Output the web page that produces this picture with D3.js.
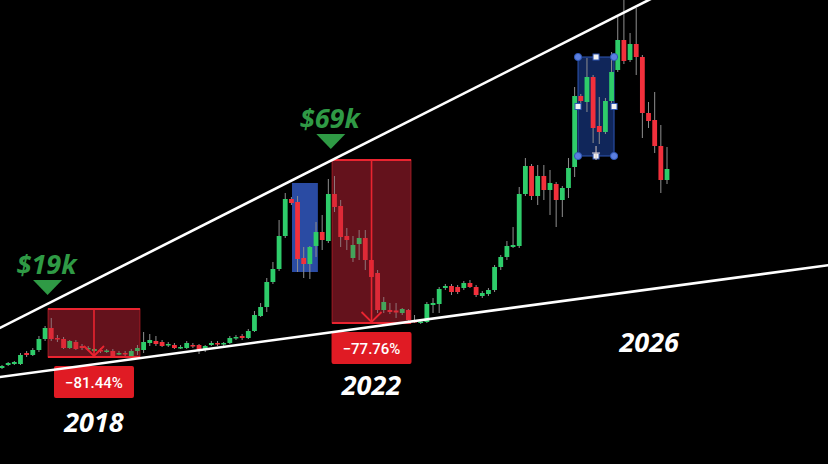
<!DOCTYPE html>
<html><head><meta charset="utf-8">
<script src="https://cdn.jsdelivr.net/npm/d3@7"></script>
<style>html,body{margin:0;padding:0;background:#000;}svg{display:block;}</style>
</head><body>
<svg id="c" width="828" height="464"></svg>
<script>
// Monthly candles (index levels)
const opens  = [96,99,100,100,111,109,114,125,136,126,125,116,122,118,115,113,114,113,113,110.5,111,108,113,114,121,123,122,119,119,116.5,116,119,119,114,119,121,120,121,125.5,128,126,133,148,157,182,195,228,265,262,206,200,218,232,223,270,258,228,206,220,226,204,191,154,154,153.5,151,154,143,142,142,159,160,176,178,177,176,181,177,168,170,174,197,207,217,218,270,298,268,288,274,280,264,276,297,368,362,387,338,332,363,394,424,404,420,407,351,344,318,284];
const highs  = [99,102,103,111,113,116,128,138,146,129,127,124,124,120,118,116,116,115,115,113,113,115,119,132,130,128,124,122,121,119,123,121,120,119,123,123,122,128,129,130,135,153,161,186,202,244,271,267,268,217,218,242,249,285,288,264,236,228,234,234,211,194,167,161,161,156,155,149,145,162,166,177,180,180,179,183,184,179,173,176,199,209,223,237,277,306,300,299,299,294,282,278,306,377,370,406,389,367,366,412,447,469,431,456,409,362,372,339,317];
const lows   = [95,98,99,99,107,108,112,123,123,122,115,115,114,114,113,112,111,111,107,109,108,107,109,111,118,118,117,117,115,115,115,116,110,112,118,118,118,120,124,124,125,132,147,152,180,193,226,259,192,186,185,207,214,221,252,217,214,202,204,194,184,151,151,150,146,149,143,141,140,141,151,151,174,169,170,174,176,167,166,168,172,194,204,216,216,268,264,259,264,249,237,247,266,287,361,352,321,320,330,361,392,400,402,389,326,336,311,271,280];
const closes = [98,101,102,109,109,114,125,136,125,125,116,123,115,116,116,115,112.5,113.5,108,111,109.5,113,116,122,124,120,118,120,116,117,121,118,114,118,121,120,121,126,127,126,133,149,157,182,195,228,265,261,205,200,217,232,224,270,257,227,224,219,226,204,187,154,162,152,151.5,155,144,142,142.5,160,161,175,178,172,172,181,177,169,171,174,197,207,218,219,270,298,268,288,274,281,264,276,296,368,363,387,336,332,363,392,424,403,420,407,351,343,318,284,295];

// Trend lines [candle index, level]
const upperTrend = [[-1, 134], [106, 467]];
const lowerTrend = [[-1, 86.4], [135, 199.5]];

// Drawdown measurements
const drawdowns = [
  {x0: 7.47, x1: 22.41, top: 155, bottom: 107, label: "\u221281.44%"},
  {x0: 53.6, x1: 66.43, top: 304, bottom: 141, label: "\u221277.76%"}
];
// Blue highlight ranges
const blueBoxes = [
  {x0: 47.1, x1: 51.3, top: 281, bottom: 192, style: "a"},
  {x0: 93.55, x1: 99.4, top: 407, bottom: 308, style: "b"}
];
// Peak markers
const peakLabels = ["$19k", "$69k"];
const peakIndex = [7.4, 53.4];
const peakLevel = [169, 315];
// Cycle year labels
const yearLabels = ["2018", "2022", "2026"];
const yearIndex = [14.94, 60.0, 105.1];
const yearLevel = [32, 69, 112];

const W = 828, H = 464;
const svg = d3.select("#c");
svg.append("rect").attr("width", W).attr("height", H).attr("fill", "#000");

const x = d3.scaleLinear().domain([0, 108]).range([2, 667]);
const y = d3.scaleLinear().domain([0, 464]).range([464, 0]);

const candles = opens.map((o, i) => ({i, o, h: highs[i], l: lows[i], c: closes[i]}));
const GREEN = "#2ecc6a", RED = "#f2303c";

// Blue boxes (under candles)
svg.append("g").selectAll("rect").data(blueBoxes).join("rect")
  .attr("x", d => x(d.x0)).attr("y", d => y(d.top))
  .attr("width", d => x(d.x1) - x(d.x0)).attr("height", d => y(d.bottom) - y(d.top))
  .attr("fill", d => d.style === "a" ? "#2a4ba3" : "#10265a")
  .attr("stroke", d => d.style === "a" ? "none" : "#2f57b5").attr("stroke-width", 1);

// Drawdown box fills (under candles)
const dfill = svg.append("g").selectAll("rect").data(drawdowns).join("rect")
  .attr("x", d => x(d.x0)).attr("y", d => y(d.top))
  .attr("width", d => x(d.x1) - x(d.x0)).attr("height", d => y(d.bottom) - y(d.top))
  .attr("fill", "rgba(205,40,60,0.42)");

// Candles
const cg = svg.append("g");
cg.selectAll("line").data(candles).join("line")
  .attr("x1", d => x(d.i)).attr("x2", d => x(d.i))
  .attr("y1", d => y(d.h)).attr("y2", d => y(d.l))
  .attr("stroke", "#8f8f8f").attr("stroke-width", 1);
cg.selectAll("rect").data(candles).join("rect")
  .attr("x", d => x(d.i) - 2.4).attr("width", 4.8)
  .attr("y", d => y(Math.max(d.o, d.c)))
  .attr("height", d => Math.max(1.5, Math.abs(y(d.o) - y(d.c))))
  .attr("fill", d => d.c >= d.o ? GREEN : RED);

// Drawdown box overlays and lines
const dg = svg.append("g").selectAll("g").data(drawdowns).join("g");
dg.append("rect")
  .attr("x", d => x(d.x0)).attr("y", d => y(d.top))
  .attr("width", d => x(d.x1) - x(d.x0)).attr("height", d => y(d.bottom) - y(d.top))
  .attr("fill", "rgba(150,25,40,0.22)")
  .attr("stroke", "rgba(230,40,50,0.55)").attr("stroke-width", 1);
dg.append("line").attr("x1", d => x(d.x0)).attr("x2", d => x(d.x1))
  .attr("y1", d => y(d.top)).attr("y2", d => y(d.top))
  .attr("stroke", "#ea2430").attr("stroke-width", 2);
dg.append("line").attr("x1", d => x(d.x0)).attr("x2", d => x(d.x1))
  .attr("y1", d => y(d.bottom)).attr("y2", d => y(d.bottom))
  .attr("stroke", "#ea2430").attr("stroke-width", 2);
dg.append("line").attr("x1", d => (x(d.x0) + x(d.x1)) / 2).attr("x2", d => (x(d.x0) + x(d.x1)) / 2)
  .attr("y1", d => y(d.top)).attr("y2", d => y(d.bottom) - 1)
  .attr("stroke", "#ea2430").attr("stroke-width", 1.6);
dg.append("path")
  .attr("d", d => { const cx = (x(d.x0) + x(d.x1)) / 2, by = y(d.bottom) - 1;
    return `M${cx - 10},${by - 10} L${cx},${by} L${cx + 10},${by - 10}`; })
  .attr("fill", "none").attr("stroke", "#ea2430").attr("stroke-width", 1.8);
dg.append("rect")
  .attr("x", d => (x(d.x0) + x(d.x1)) / 2 - 40).attr("y", d => y(d.bottom) + 9)
  .attr("width", 80).attr("height", 32).attr("rx", 2)
  .attr("fill", "#e01b24");
dg.append("text")
  .attr("x", d => (x(d.x0) + x(d.x1)) / 2).attr("y", d => y(d.bottom) + 30.5)
  .attr("text-anchor", "middle").attr("fill", "#fff")
  .attr("font-family", "Roboto, 'Open Sans', sans-serif").attr("font-size", 15).attr("font-weight", 500)
  .text(d => d.label);

// Trend lines
const line = d3.line().x(d => x(d[0])).y(d => y(d[1]));
[upperTrend, lowerTrend].forEach(t => svg.append("path").attr("d", line(t))
  .attr("fill", "none").attr("stroke", "#fff").attr("stroke-width", 2.6));

// Handles on the selected blue box
const sel = blueBoxes[1];
const hx = [x(sel.x0), (x(sel.x0) + x(sel.x1)) / 2, x(sel.x1)];
const hy = [y(sel.top), (y(sel.top) + y(sel.bottom)) / 2, y(sel.bottom)];
const hg = svg.append("g");
[[0,0],[2,0],[0,2],[2,2]].forEach(([a,b]) => hg.append("circle")
  .attr("cx", hx[a]).attr("cy", hy[b]).attr("r", 3.6)
  .attr("fill", "#5b7fe0").attr("stroke", "#2f57b5").attr("stroke-width", 1));
[[1,0],[0,1],[2,1],[1,2]].forEach(([a,b]) => hg.append("rect")
  .attr("x", hx[a] - 3).attr("y", hy[b] - 3).attr("width", 6).attr("height", 6)
  .attr("fill", "#f2f2f2").attr("stroke", "#2f57b5").attr("stroke-width", 1));
hg.append("path").attr("d", `M${hx[1]},${hy[2]-10} V${hy[2]+4} M${hx[1]-4},${hy[2]-3} H${hx[1]+4}`)
  .attr("stroke", "#d8c8c0").attr("stroke-width", 1);

// Peak markers
const pg = svg.append("g").selectAll("g").data(peakLabels).join("g");
pg.append("path").attr("d", (d, k) => { const cx = x(peakIndex[k]), ty = y(peakLevel[k]);
    return `M${cx - 14.5},${ty - 15} L${cx + 14.5},${ty - 15} L${cx},${ty} Z`; })
  .attr("fill", "#2f9a45");
pg.append("text").attr("x", (d, k) => x(peakIndex[k]) - 1).attr("y", (d, k) => y(peakLevel[k]) - 21)
  .attr("text-anchor", "middle").attr("fill", "#2f9a45")
  .attr("font-family", "'Open Sans', sans-serif").attr("font-size", 27)
  .attr("font-style", "italic").attr("font-weight", 700).text(d => d);

// Year labels
svg.append("g").selectAll("text").data(yearLabels).join("text")
  .attr("x", (d, k) => x(yearIndex[k])).attr("y", (d, k) => y(yearLevel[k]))
  .attr("text-anchor", "middle").attr("fill", "#fff")
  .attr("font-family", "'Open Sans', sans-serif").attr("font-size", 27)
  .attr("font-style", "italic").attr("font-weight", 700).text(d => d);
</script>
</body></html>
